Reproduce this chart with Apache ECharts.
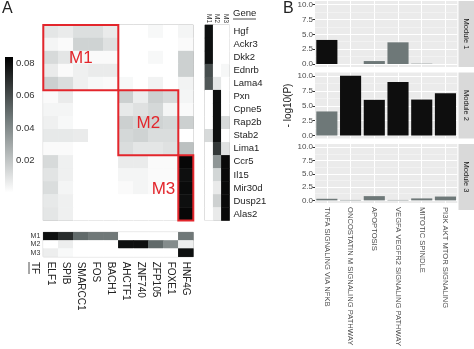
<!DOCTYPE html>
<html>
<head>
<meta charset="utf-8">
<script src="https://cdn.jsdelivr.net/npm/echarts@6/dist/echarts.min.js"></script>
<style>
html,body{margin:0;padding:0;background:#fff;}
#chart{width:474px;height:349px;}
</style>
</head>
<body>
<div id="chart"></div>
<script>
// ---------- Panel A data ----------
const tfs = ['ELF1','SPIB','SMARCC1','FOS','BACH1','AHCTF1','ZNF740','ZFP105','FOXE1','HNF4G'];
const genes = ['Hgf','Ackr3','Dkk2','Ednrb','Lama4','Pxn','Cpne5','Rap2b','Stab2','Lima1','Ccr5','Il15','Mir30d','Dusp21','Alas2'];
const modules = ['M1','M2','M3'];
// gene x TF association (rows = genes, cols = tfs)
const corrHgf    = [0.010,0.008,0.013,0.013,0.008,0.000,0.000,0.003,0.000,0.004];
const corrAckr3  = [0.004,0.002,0.018,0.018,0.012,0.000,0.000,0.000,0.000,0.002];
const corrDkk2   = [0.015,0.010,0.003,0.002,0.002,0.000,0.000,0.003,0.000,0.019];
const corrEdnrb  = [0.008,0.002,0.006,0.008,0.008,0.000,0.000,0.000,0.000,0.019];
const corrLama4  = [0.019,0.014,0.006,0.003,0.002,0.003,0.000,0.005,0.000,0.005];
const corrPxn    = [0.002,0.008,0.000,0.000,0.000,0.019,0.007,0.019,0.015,0.004];
const corrCpne5  = [0.004,0.004,0.000,0.000,0.000,0.009,0.012,0.016,0.004,0.002];
const corrRap2b  = [0.006,0.003,0.000,0.000,0.000,0.019,0.016,0.018,0.016,0.019];
const corrStab2  = [0.009,0.009,0.008,0.000,0.000,0.016,0.018,0.014,0.014,0.000];
const corrLima1  = [0.002,0.002,0.000,0.000,0.000,0.014,0.010,0.010,0.012,0.025];
const corrCcr5   = [0.015,0.006,0.000,0.000,0.000,0.008,0.008,0.002,0.002,0.082];
const corrIl15   = [0.011,0.006,0.000,0.000,0.000,0.004,0.004,0.002,0.002,0.080];
const corrMir30d = [0.014,0.004,0.000,0.000,0.000,0.002,0.004,0.002,0.000,0.081];
const corrDusp21 = [0.009,0.006,0.000,0.000,0.000,0.000,0.000,0.000,0.000,0.080];
const corrAlas2  = [0.010,0.006,0.000,0.000,0.000,0.000,0.000,0.000,0.000,0.082];
const corrRows = [corrHgf,corrAckr3,corrDkk2,corrEdnrb,corrLama4,corrPxn,corrCpne5,corrRap2b,corrStab2,corrLima1,corrCcr5,corrIl15,corrMir30d,corrDusp21,corrAlas2];

// gene module membership (per gene)
const geneM1 = [0.95,0.95,0.95,0.75,0.72,0,0,0,0.18,0,0,0,0,0,0];
const geneM2 = [0,0,0,0,0.12,0.95,0.95,0.95,0.95,0.82,0.48,0.2,0.1,0.22,0.1];
const geneM3 = [0,0,0,0.04,0,0,0,0.18,0,0.14,0.97,0.97,0.97,0.97,0.97];
// TF module membership (per TF)
const tfM1 = [0.95,0.86,0.66,0.6,0.6,0,0,0,0,0.6];
const tfM2 = [0,0.08,0,0,0,0.95,0.95,0.66,0.52,0.08];
const tfM3 = [0.08,0.03,0,0,0,0,0,0,0,0.95];

// module blocks (TF index range, gene index range)
const moduleTfStart = [0,5,9];
const moduleTfEnd = [4,8,9];
const moduleGeneStart = [0,5,10];
const moduleGeneEnd = [4,9,14];

const colorbarMax = 0.084;
const colorbarTicks = [0.02,0.04,0.06,0.08];

// ---------- Panel B data ----------
const pathways = ['TNFA SIGNALING VIA NFKB','ONCOSTATIN M SIGNALING PATHWAY','APOPTOSIS','VEGFA VEGFR2 SIGNALING PATHWAY','MITOTIC SPINDLE','PI3K AKT MTOR SIGNALING'];
const moduleLabels = ['Module 1','Module 2','Module 3'];
const module1LogP = [4.05,0,0.5,3.65,0.05,0];
const module2LogP = [4.05,10.05,6.0,9.0,6.05,7.1];
const module3LogP = [0.3,0.08,0.8,0.08,0.37,0.72];
const module1Sig = [1,0,0,0,0,0];
const module2Sig = [0,1,1,1,1,1];
const module3Sig = [0,0,0,0,0,0];
const yTicks = [0,2.5,5,7.5,10];
const yMinorTicks = [1.25,3.75,6.25,8.75];

// ---------- build ----------
const FONT = 'Liberation Sans, Arial, Helvetica, sans-serif';
const chart = echarts.init(document.getElementById('chart'), null, {renderer:'canvas'});

const heatData = [];
corrRows.forEach((row, r) => row.forEach((v, c) => heatData.push([c, r, v])));
const geneMemb = [geneM1, geneM2, geneM3];
const geneMembData = [];
geneMemb.forEach((col, m) => col.forEach((v, r) => geneMembData.push([m, r, v])));
const tfMemb = [tfM1, tfM2, tfM3];
const tfMembData = [];
tfMemb.forEach((row, m) => row.forEach((v, c) => tfMembData.push([c, m, v])));
const boxData = modules.map((m, i) => [moduleTfStart[i], moduleGeneStart[i], moduleTfEnd[i], moduleGeneEnd[i]]);

const GRAYS = ['#ffffff','#b4baba','#5f6868','#000000'];
const RED = '#e3262c';

// panel B geometry
const PB_LEFT = 315, PB_WIDTH = 142.3, PB_H = 66;
const PB_TOPS = [1, 72.5, 144];
const STRIP_X = 458.5, STRIP_W = 15.5;

const grids = [
  {left:43.3, top:25, width:150, height:195.5, show:true, borderColor:'#a8a8a8', borderWidth:1, backgroundColor:'transparent'},
  {left:205, top:25, width:24.5, height:195.5, show:true, borderColor:'#a8a8a8', borderWidth:1, backgroundColor:'transparent'},
  {left:43.3, top:232.3, width:150, height:24.4, show:true, borderColor:'#a8a8a8', borderWidth:1, backgroundColor:'transparent'},
  {left:5, top:57, width:8, height:135.4, show:false}
];
PB_TOPS.forEach(t => grids.push({left:PB_LEFT, top:t, width:PB_WIDTH, height:PB_H, show:true, backgroundColor:'#ebebeb', borderWidth:0}));

const hidden = {axisLine:{show:false}, axisTick:{show:false}, axisLabel:{show:false}, splitLine:{show:false}};

const xAxes = [
  Object.assign({type:'category', gridIndex:0, data:tfs}, hidden),
  {type:'category', gridIndex:1, data:modules, position:'top', axisLine:{show:false}, axisTick:{show:false}, splitLine:{show:false},
    axisLabel:{interval:0, rotate:90, fontSize:6.5, color:'#333', margin:2, fontFamily:FONT}},
  {type:'category', gridIndex:2, data:tfs, position:'bottom', axisLine:{show:false}, axisTick:{show:false}, splitLine:{show:false},
    axisLabel:{interval:0, rotate:-90, fontSize:10, color:'#222', margin:5, fontFamily:FONT}},
  Object.assign({type:'category', gridIndex:3, data:['']}, hidden)
];
const yAxes = [
  Object.assign({type:'category', gridIndex:0, data:genes, inverse:true}, hidden),
  {type:'category', gridIndex:1, data:genes, inverse:true, position:'right', axisLine:{show:false}, axisTick:{show:false}, splitLine:{show:false},
    axisLabel:{interval:0, fontSize:9.5, color:'#222', margin:4, fontFamily:FONT}},
  {type:'category', gridIndex:2, data:modules, inverse:true, position:'left', axisLine:{show:false}, axisTick:{show:false}, splitLine:{show:false},
    axisLabel:{interval:0, fontSize:7, color:'#333', margin:3, fontFamily:FONT}},
  {type:'value', gridIndex:3, min:0, max:colorbarMax, position:'right', axisLine:{show:false}, axisTick:{show:false}, splitLine:{show:false},
    axisLabel:{customValues:colorbarTicks, formatter:v => v.toFixed(2), fontSize:9.5, color:'#333', margin:3, fontFamily:FONT}}
];

PB_TOPS.forEach((t, i) => {
  const last = i === PB_TOPS.length - 1;
  xAxes.push({type:'category', gridIndex:4+i, data:pathways,
    axisLine:{show:false}, splitLine:{show:false},
    axisTick:{show:last, alignWithLabel:true, length:2.5, lineStyle:{color:'#333'}},
    axisLabel:{show:last, interval:0, rotate:-90, fontSize:7.6, color:'#4d4d4d', margin:4, fontFamily:FONT}});
  yAxes.push({type:'value', gridIndex:4+i, min:-0.5, max:10.6,
    axisLine:{show:false}, splitLine:{show:false},
    axisTick:{show:true, customValues:yTicks, length:2.5, lineStyle:{color:'#333'}},
    axisLabel:{customValues:yTicks, formatter:v => v.toFixed(1), fontSize:8, color:'#4d4d4d', margin:2, fontFamily:FONT},
    name: i === 1 ? '- log10(P)' : '', nameLocation:'middle', nameGap:19, nameRotate:90,
    nameTextStyle:{fontSize:10, color:'#222', fontFamily:FONT}});
});

const series = [
  {type:'heatmap', xAxisIndex:0, yAxisIndex:0, data:heatData, emphasis:{disabled:true}, silent:true},
  {type:'heatmap', xAxisIndex:1, yAxisIndex:1, data:geneMembData, emphasis:{disabled:true}, silent:true},
  {type:'heatmap', xAxisIndex:2, yAxisIndex:2, data:tfMembData, emphasis:{disabled:true}, silent:true},
  {type:'custom', xAxisIndex:0, yAxisIndex:0, data:boxData, z:5, clip:false, silent:true,
    encode:{x:[0,2], y:[1,3]},
    renderItem:(params, api) => {
      const p0 = api.coord([api.value(0), api.value(1)]);
      const p1 = api.coord([api.value(2), api.value(3)]);
      const s = api.size([1,1]);
      const x = Math.min(p0[0],p1[0]) - s[0]/2, y = Math.min(p0[1],p1[1]) - s[1]/2;
      const w = Math.abs(p1[0]-p0[0]) + s[0], h = Math.abs(p1[1]-p0[1]) + s[1];
      const narrow = w < 30;
      return {type:'group', children:[
        {type:'rect', shape:{x:x, y:y, width:w, height:h}, style:{fill:null, stroke:RED, lineWidth:2}},
        {type:'text', style:{text:modules[params.dataIndex], x: narrow ? x-3 : x+w/2, y: y+h/2+1,
          align: narrow ? 'right' : 'center', verticalAlign:'middle', fill:RED, fontSize:17, fontFamily:FONT}}
      ]};
    }},
  {type:'bar', xAxisIndex:3, yAxisIndex:3, data:[colorbarMax], barWidth:'100%', silent:true,
    itemStyle:{color:new echarts.graphic.LinearGradient(0,0,0,1,[{offset:0,color:'#000000'},{offset:0.45,color:'#6f7878'},{offset:1,color:'#ffffff'}])}}
];

const logPs = [module1LogP, module2LogP, module3LogP];
const sigs = [module1Sig, module2Sig, module3Sig];
logPs.forEach((vals, i) => {
  const lineData = pathways.map(p => ({xAxis:p, lineStyle:{color:'#ffffff', width:1.1, type:'solid'}}))
    .concat(yTicks.map(v => ({yAxis:v, lineStyle:{color:'#ffffff', width:1.1, type:'solid'}})))
    .concat(yMinorTicks.map(v => ({yAxis:v, lineStyle:{color:'#f6f6f6', width:0.6, type:'solid'}})));
  series.push({type:'bar', xAxisIndex:4+i, yAxisIndex:4+i, barWidth:'89%', z:3, silent:true,
    data: vals.map((v, k) => ({value:v, itemStyle:{color: sigs[i][k] ? '#0e0e0e' : '#6e7878'}})),
    markLine:{z:1, silent:true, symbol:'none', animation:false, label:{show:false}, data:lineData}});
});

const graphics = [
  {type:'text', left:2, top:1, style:{text:'A', fontSize:16, fill:'#222', fontFamily:FONT}},
  {type:'text', left:283, top:1, style:{text:'B', fontSize:16, fill:'#222', fontFamily:FONT}},
  {type:'text', x:233, y:8, style:{text:'Gene', fontSize:9.5, fill:'#222', fontFamily:FONT, textVerticalAlign:'top'}},
  {type:'line', shape:{x1:233, y1:19, x2:256, y2:19}, style:{stroke:'#222', lineWidth:0.8}},
  {type:'text', x:30, y:262, rotation:-Math.PI/2, style:{text:'TF', fontSize:10, fill:'#222', fontFamily:FONT, align:'left', verticalAlign:'bottom'}},
  {type:'line', shape:{x1:29, y1:262, x2:29, y2:274}, style:{stroke:'#222', lineWidth:0.8}}
];
PB_TOPS.forEach((t, i) => {
  graphics.push({type:'rect', shape:{x:STRIP_X, y:t, width:STRIP_W, height:PB_H}, style:{fill:'#d9d9d9'}, silent:true});
  graphics.push({type:'text', x:STRIP_X + STRIP_W/2, y:t + PB_H/2, rotation:-Math.PI/2,
    style:{text:moduleLabels[i], fontSize:7.5, fill:'#1a1a1a', fontFamily:FONT, align:'center', verticalAlign:'middle'}});
});

chart.setOption({
  animation:false,
  grid:grids,
  xAxis:xAxes,
  yAxis:yAxes,
  visualMap:[
    {type:'continuous', show:false, seriesIndex:[0], min:0, max:colorbarMax, inRange:{color:GRAYS}},
    {type:'continuous', show:false, seriesIndex:[1,2], min:0, max:1, inRange:{color:GRAYS}}
  ],
  series:series,
  graphic:graphics
});
</script>
</body>
</html>
